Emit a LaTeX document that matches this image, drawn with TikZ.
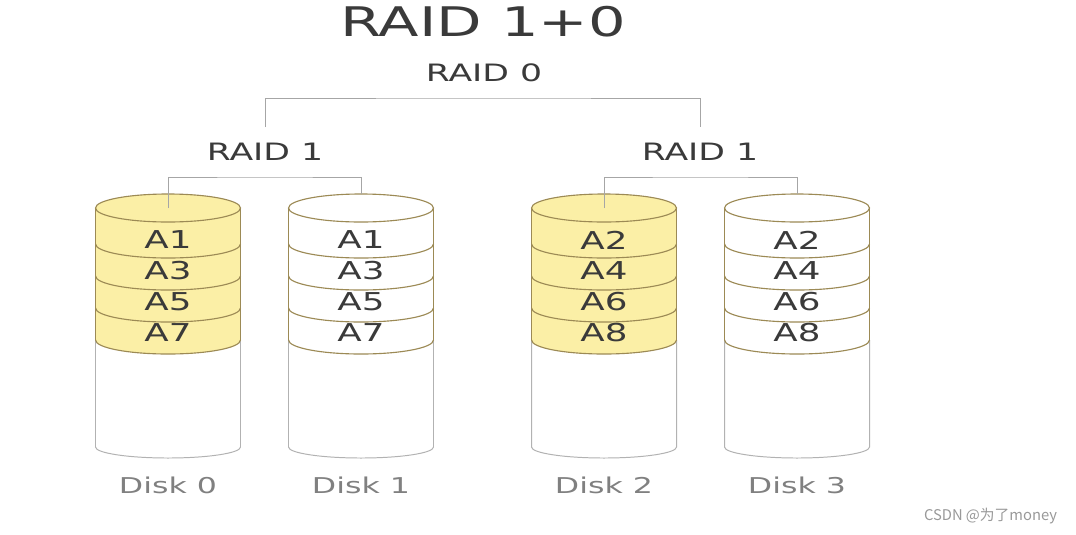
\documentclass[tikz,border=0pt]{standalone}
\usepackage{fontspec}
\setmainfont{DejaVu Sans}
\newfontfamily\cjk{Noto Sans CJK SC}
\definecolor{yel}{HTML}{FBEFA6}
\definecolor{edge}{HTML}{9C8A55}
\definecolor{txt}{HTML}{3A3A3A}
\newcommand{\wide}[1]{\scalebox{1.45}[1]{#1}}
\tikzset{
  lbl/.style={text=txt, font=\fontsize{15.5}{16}\selectfont},
  blk/.style={text=txt, font=\fontsize{17.5}{18}\selectfont},
  wire/.style={gray!70, line width=0.7pt},
}
\begin{document}
\begin{tikzpicture}[x=0.025cm, y=0.025cm]
    \useasboundingbox[fill=white] (0,-534) rectangle (1076,0);

    \node[text=txt, font=\fontsize{29}{30}\selectfont] (title) at (483,-22) {\wide{RAID 1+0}};
    \node[lbl, font=\fontsize{17}{18}\selectfont] (r0) at (484,-73) {\wide{RAID 0}};
    \node[lbl, font=\fontsize{17}{18}\selectfont] (r1a) at (265,-152) {\wide{RAID 1}};
    \node[lbl, font=\fontsize{17}{18}\selectfont] (r1b) at (700,-152) {\wide{RAID 1}};

    % disks
    \foreach \x/\n/\c/\a/\b/\e/\f in {168/0/yel/A1/A3/A5/A7, 361/1/white/A1/A3/A5/A7,
                                     604/2/yel/A2/A4/A6/A8, 797/3/white/A2/A4/A6/A8}{
      \fill[\c] (\x-72.5,-208) -- (\x-72.5,-340) arc[start angle=180,end angle=360,x radius=72.5,y radius=14]
                -- (\x+72.5,-208) arc[start angle=0,end angle=180,x radius=72.5,y radius=14] -- cycle;
      \draw[gray!60, line width=0.7pt] (\x-72.5,-340) -- (\x-72.5,-447) arc[start angle=180,end angle=360,x radius=72.5,y radius=11]
                -- (\x+72.5,-340);
      \draw[edge, line width=0.8pt] (\x,-208) ellipse[x radius=72.5, y radius=14];
      \draw[edge, line width=0.8pt] (\x-72.5,-208) -- (\x-72.5,-340) (\x+72.5,-208) -- (\x+72.5,-340);
      \foreach \y in {244,276,308,340}
        \draw[edge, line width=0.8pt] (\x-72.5,-\y) arc[start angle=180,end angle=360,x radius=72.5,y radius=14];
      \node[blk] (a\n) at (\x,-240) {\wide{\a}};
      \node[blk] (b\n) at (\x,-271) {\wide{\b}};
      \node[blk] (e\n) at (\x,-302) {\wide{\e}};
      \node[blk] (f\n) at (\x,-333) {\wide{\f}};
      \node[lbl, text=gray] (d\n) at (\x,-485) {\wide{Disk \n}};
      \coordinate (top\n) at (\x,-194);
    }
    \coordinate (top0) at (168,-208);
    \coordinate (top2) at (604,-208);

    % connectors
    \draw[wire] (top0) |- (r1a.south |- 0,-177) -| (top1);
    \draw[wire] (top2) |- (r1b.south |- 0,-177) -| (top3);
    \draw[wire] (r1a.north |- 0,-127) |- (r0.south |- 0,-98) -| (r1b.north |- 0,-127);

    \node[text=gray!80, font=\cjk\fontsize{10.5}{11}\selectfont, anchor=east] (mark) at (1062,-516) {CSDN @为了money};
\end{tikzpicture}
\end{document}
